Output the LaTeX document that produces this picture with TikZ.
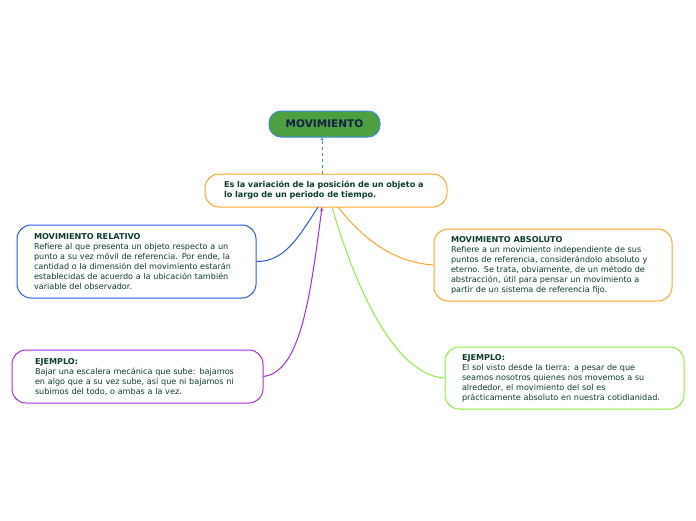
\documentclass[tikz,border=0pt]{standalone}
\usepackage{fontspec}
\setmainfont{DejaVu Sans}
\usetikzlibrary{arrows.meta}
\definecolor{txt}{HTML}{0B3D2E}
\tikzset{x=1pt,y=-1pt,
 box/.style={draw,line width=1pt,rounded corners=14pt,fill=white,inner sep=0pt,align=left,text=txt,font=\fontsize{8.1}{10}\selectfont},
 link/.style={line width=1pt}}
\begin{document}
\begin{tikzpicture}
\useasboundingbox (0,0) rectangle (696,520);
\node[draw={rgb,255:red,60;green,140;blue,220},line width=1pt,fill={rgb,255:red,76;green,160;blue,64},rounded corners=12pt,minimum width=111pt,minimum height=26pt,font=\bfseries\fontsize{10.5}{12}\selectfont,text={rgb,255:red,20;green,30;blue,70}] (top) at (324.5,124) {MOVIMIENTO};
\node[box,draw={rgb,255:red,255;green,165;blue,40},minimum width=242pt,minimum height=33pt,text width=204pt,font=\bfseries\fontsize{8.1}{10}\selectfont,xshift=-0pt] (main) at (326,190.5) {Es la variación de la posición de un objeto a\\lo largo de un periodo de tiempo.};
\node[box,draw={rgb,255:red,40;green,90;blue,230},minimum width=239pt,minimum height=73pt,text width=205pt] (rel) at (136.5,261.5) {\textbf{MOVIMIENTO RELATIVO}\\Refiere al que presenta un objeto respecto a un\\punto a su vez móvil de referencia. Por ende, la\\cantidad o la dimensión del movimiento estarán\\establecidas de acuerdo a la ubicación también\\variable del observador.};
\node[box,draw={rgb,255:red,255;green,165;blue,40},minimum width=238pt,minimum height=72pt,text width=204pt] (abs) at (553,265) {\textbf{MOVIMIENTO ABSOLUTO}\\Refiere a un movimiento independiente de sus\\puntos de referencia, considerándolo absoluto y\\eterno. Se trata, obviamente, de un método de\\abstracción, útil para pensar un movimiento a\\partir de un sistema de referencia fijo.};
\node[box,draw={rgb,255:red,170;green,40;blue,240},minimum width=251pt,minimum height=53pt,text width=205pt] (ej1) at (137.5,376.5) {\textbf{EJEMPLO:}\\Bajar una escalera mecánica que sube: bajamos\\en algo que a su vez sube, así que ni bajamos ni\\subimos del todo, o ambas a la vez.};
\node[box,draw={rgb,255:red,140;green,240;blue,60},minimum width=239pt,minimum height=62pt,text width=205pt] (ej2) at (564.5,378) {\textbf{EJEMPLO:}\\El sol visto desde la tierra: a pesar de que\\seamos nosotros quienes nos movemos a su\\alrededor, el movimiento del sol es\\prácticamente absoluto en nuestra cotidianidad.};
\draw[link,dashed,line width=0.8pt,draw={rgb,255:red,60;green,140;blue,220},-{Stealth[length=4pt]}] (322,174) -- (322,137);
\draw[link,draw={rgb,255:red,40;green,90;blue,230}] (rel.east) .. controls (285,262) and (300,235) .. (318,207);
\draw[link,draw={rgb,255:red,170;green,40;blue,240},-{Stealth[length=4pt]}] (ej1.east) .. controls (300,372) and (310,300) .. (322,207);
\draw[link,draw={rgb,255:red,255;green,165;blue,40}] (abs.west) .. controls (390,262) and (360,235) .. (338,207);
\draw[link,draw={rgb,255:red,140;green,240;blue,60}] (ej2.west) .. controls (390,375) and (350,270) .. (332,207);
\end{tikzpicture}
\end{document}
